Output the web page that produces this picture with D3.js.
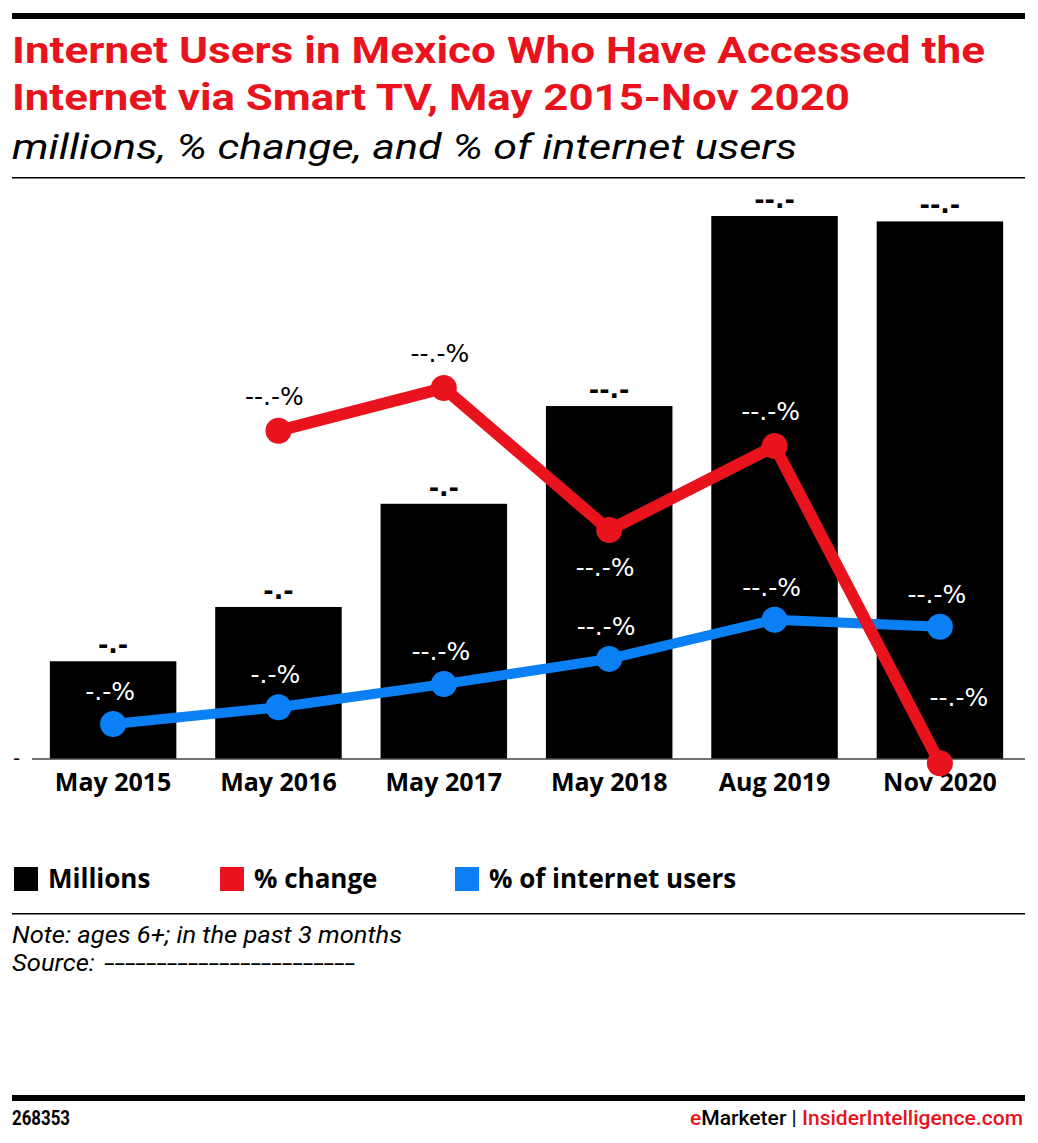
<!DOCTYPE html>
<html>
<head>
<meta charset="utf-8">
<script src="https://cdn.jsdelivr.net/npm/d3@7"></script>
<style>
  body { margin: 0; background: #fff; }
  svg { display: block; font-family: Roboto, "Open Sans", sans-serif; }
</style>
</head>
<body>
<div id="chart"></div>
<script>
const categories = ["May 2015", "May 2016", "May 2017", "May 2018", "Aug 2019", "Nov 2020"];
const millions = [3.6, 5.6, 9.4, 13.0, 20.0, 19.8];
const pctChange = [null, 46.9, 53.0, 32.7, 44.7, -0.6];
const pctUsers = [5.0, 7.4, 10.7, 14.3, 19.9, 18.9];
const barLabels = ["-.-", "-.-", "-.-", "--.-", "--.-", "--.-"];
const changeLabels = [null, "--.-%", "--.-%", "--.-%", "--.-%", "--.-%"];
const usersLabels = ["-.-%", "-.-%", "--.-%", "--.-%", "--.-%", "--.-%"];
const changePlacement = [null, "above", "above", "below", "above", "aboveRight"];

const width = 1038, height = 1143;
const red = "#e8131d", blue = "#0b80f5";
const wideFont = "'Open Sans', sans-serif";
const labelFont = "'DejaVu Sans', sans-serif";

const svg = d3.select("#chart").append("svg")
  .attr("width", width)
  .attr("height", height);

// header
svg.append("rect").attr("x", 12).attr("y", 13).attr("width", 1013).attr("height", 6).attr("fill", "#000");

svg.append("text")
  .attr("x", 12).attr("y", 63)
  .attr("fill", red).attr("font-size", 36).attr("font-weight", 700)
  .attr("textLength", 973).attr("lengthAdjust", "spacingAndGlyphs")
  .text("Internet Users in Mexico Who Have Accessed the");

svg.append("text")
  .attr("x", 12).attr("y", 110)
  .attr("fill", red).attr("font-size", 36).attr("font-weight", 700)
  .attr("textLength", 838).attr("lengthAdjust", "spacingAndGlyphs")
  .text("Internet via Smart TV, May 2015-Nov 2020");

svg.append("text")
  .attr("x", 12).attr("y", 159)
  .attr("fill", "#000").attr("font-size", 35).attr("font-style", "italic")
  .attr("textLength", 785).attr("lengthAdjust", "spacingAndGlyphs")
  .text("millions, % change, and % of internet users");

svg.append("rect").attr("x", 12).attr("y", 177).attr("width", 1013).attr("height", 1.5).attr("fill", "#000");

// scales
const x = d3.scaleBand()
  .domain(categories)
  .range([30, 1023])
  .paddingInner(0.235)
  .paddingOuter(0.12);

const y = d3.scaleLinear().domain([0, 20]).range([759, 216]);
const yPct = d3.scaleLinear().domain([0, 80]).range([759, 199]);

const cx = i => x(categories[i]) + x.bandwidth() / 2;

// bars
svg.selectAll(".bar")
  .data(millions)
  .enter()
  .append("rect")
  .attr("x", (d, i) => x(categories[i]))
  .attr("y", d => y(d))
  .attr("width", x.bandwidth())
  .attr("height", d => y(0) - y(d))
  .attr("fill", "#000");

svg.selectAll(".barLabel")
  .data(millions)
  .enter()
  .append("text")
  .attr("x", (d, i) => cx(i))
  .attr("y", d => y(d) - 8)
  .attr("text-anchor", "middle")
  .attr("font-family", labelFont)
  .attr("font-size", 25).attr("font-weight", 700)
  .text((d, i) => barLabels[i]);

// baseline + axis
svg.append("line")
  .attr("x1", 32).attr("x2", 1025)
  .attr("y1", y(0)).attr("y2", y(0))
  .attr("stroke", "#444").attr("stroke-width", 1.5);

svg.append("text")
  .attr("x", 13).attr("y", y(0) + 6)
  .attr("font-family", labelFont)
  .attr("font-size", 20)
  .text("-");

const xAxis = svg.append("g")
  .attr("transform", `translate(0,${y(0)})`)
  .call(d3.axisBottom(x).tickSize(0).tickPadding(14));
xAxis.select(".domain").remove();
xAxis.selectAll("text")
  .attr("font-family", wideFont)
  .attr("font-size", 25).attr("font-weight", 700).attr("fill", "#000");

// lines
function labelColor(i, ly) {
  return ly > y(millions[i]) ? "#fff" : "#000";
}

const usersPts = pctUsers.map((v, i) => ({ i, v }));
const changePts = pctChange.map((v, i) => ({ i, v })).filter(d => d.v !== null);

const line = d3.line().x(d => cx(d.i)).y(d => yPct(d.v));

svg.append("path")
  .datum(usersPts)
  .attr("d", line)
  .attr("fill", "none").attr("stroke", blue).attr("stroke-width", 10);

svg.selectAll(".uDot")
  .data(usersPts)
  .enter()
  .append("circle")
  .attr("cx", d => cx(d.i)).attr("cy", d => yPct(d.v))
  .attr("r", 13).attr("fill", blue);

svg.append("path")
  .datum(changePts)
  .attr("d", line)
  .attr("fill", "none").attr("stroke", red).attr("stroke-width", 12);

svg.selectAll(".cDot")
  .data(changePts)
  .enter()
  .append("circle")
  .attr("cx", d => cx(d.i)).attr("cy", d => yPct(d.v))
  .attr("r", 13).attr("fill", red);

svg.selectAll(".uLabel")
  .data(usersPts)
  .enter()
  .append("text")
  .attr("x", d => cx(d.i) - 3)
  .attr("y", d => yPct(d.v) - 24)
  .attr("text-anchor", "middle")
  .attr("font-family", labelFont)
  .attr("font-size", 25)
  .attr("fill", d => labelColor(d.i, yPct(d.v) - 40))
  .text(d => usersLabels[d.i]);

svg.selectAll(".cLabel")
  .data(changePts)
  .enter()
  .append("text")
  .each(function (d) {
    const p = changePlacement[d.i];
    let lx = cx(d.i) - 4, ly = yPct(d.v) - 26;
    if (p === "below") { lx = cx(d.i) - 4; ly = yPct(d.v) + 46; }
    if (p === "aboveRight") { lx = cx(d.i) + 19; ly = yPct(d.v) - 57; }
    d3.select(this)
      .attr("x", lx).attr("y", ly)
      .attr("fill", labelColor(d.i, ly - 16));
  })
  .attr("text-anchor", "middle")
  .attr("font-family", labelFont)
  .attr("font-size", 25)
  .text(d => changeLabels[d.i]);

// legend
const legend = [
  { label: "Millions", color: "#000", x: 14 },
  { label: "% change", color: red, x: 220 },
  { label: "% of internet users", color: blue, x: 455 }
];

const lg = svg.selectAll(".legend")
  .data(legend)
  .enter()
  .append("g")
  .attr("transform", d => `translate(${d.x},867)`);

lg.append("rect").attr("width", 24).attr("height", 24).attr("fill", d => d.color);
lg.append("text")
  .attr("x", 34).attr("y", 21)
  .attr("font-family", wideFont)
  .attr("font-size", 26).attr("font-weight", 700)
  .text(d => d.label);

svg.append("rect").attr("x", 12).attr("y", 913).attr("width", 1013).attr("height", 1.5).attr("fill", "#000");

// notes
svg.append("text")
  .attr("x", 12).attr("y", 943)
  .attr("font-size", 23).attr("font-style", "italic")
  .attr("textLength", 390).attr("lengthAdjust", "spacingAndGlyphs")
  .text("Note: ages 6+; in the past 3 months");

svg.append("text")
  .attr("x", 12).attr("y", 971)
  .attr("font-size", 23).attr("font-style", "italic")
  .attr("textLength", 83).attr("lengthAdjust", "spacingAndGlyphs")
  .text("Source:");

svg.append("text")
  .attr("x", 104).attr("y", 971)
  .attr("font-size", 23).attr("font-style", "italic")
  .attr("textLength", 251).attr("lengthAdjust", "spacingAndGlyphs")
  .text("------------------------");

// footer
svg.append("rect").attr("x", 12).attr("y", 1095).attr("width", 1013).attr("height", 6).attr("fill", "#000");

svg.append("text")
  .attr("x", 12).attr("y", 1125)
  .attr("font-size", 20).attr("font-weight", 700)
  .attr("textLength", 58).attr("lengthAdjust", "spacingAndGlyphs")
  .text("268353");

const foot = svg.append("text")
  .attr("x", 690).attr("y", 1125)
  .attr("font-size", 21).attr("font-weight", 500)
  .attr("textLength", 333).attr("lengthAdjust", "spacingAndGlyphs");
foot.append("tspan").attr("fill", red).text("e");
foot.append("tspan").attr("fill", "#000").text("Marketer");
foot.append("tspan").attr("fill", "#000").attr("font-weight", 400).text("  |  ");
foot.append("tspan").attr("fill", red).text("InsiderIntelligence.com");
</script>
</body>
</html>
